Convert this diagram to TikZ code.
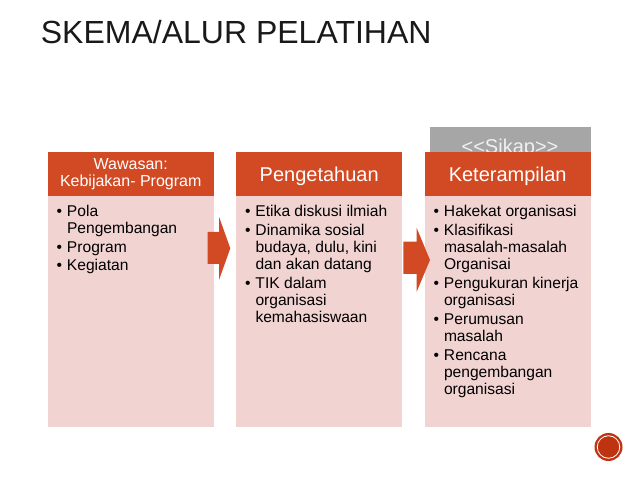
\documentclass[tikz,border=0pt]{standalone}
\usepackage{fontspec}
\setmainfont{Liberation Sans}
\usetikzlibrary{positioning}
\definecolor{headred}{HTML}{D24A24}
\definecolor{bodypink}{HTML}{F1D3D2}
\definecolor{sikapgray}{HTML}{A6A6A6}
\definecolor{dotred}{HTML}{BE3411}
\newcommand{\itm}{\par\hangindent=10.3pt\hangafter=1\noindent\makebox[10.3pt][l]{\textbullet}}
\newcommand{\bodylist}[1]{\parbox[t]{165pt}{\fontsize{15.6}{17.3}\selectfont\parskip=1.3pt #1}}
\tikzset{headbox/.style = {fill=headred, text=white, anchor=north west,
                           minimum width=166pt, minimum height=44pt,
                           font=\fontsize{20}{22}\selectfont}}
\tikzset{bodybox/.style = {fill=bodypink, anchor=north west,
                           minimum width=166pt, minimum height=231pt}}
\tikzset{blockarrow/.style = {fill=headred}}

\begin{document}
\begin{tikzpicture}[x=1pt, y=-1pt, inner sep=0pt]
      \useasboundingbox (0, 0) rectangle (638, 478);
      \node (title) at (40.7, 43.3) [anchor=base west, font=\fontsize{32}{32}\selectfont, text=black!90] {SKEMA/ALUR PELATIHAN};

      \node (sikapbox) at (429.3, 126.7) [fill=sikapgray, anchor=north west, minimum width=161.4pt, minimum height=30pt] {};
      \node (sikap) at (510, 154) [anchor=base, text=white!88!gray, font=\fontsize{20}{22}\selectfont] {{<}{<}Sikap{>}{>}};

      \node (head1) at (47.5, 152) [headbox, font=\fontsize{16}{17.4}\selectfont, align=center] {Wawasan:\\Kebijakan- Program};
      \node (head2) at (236, 152) [headbox, text height=14.3pt, text depth=0pt] {Pengetahuan};
      \node (head3) at (424.5, 152) [headbox, text height=14.3pt, text depth=0pt] {Keterampilan};
      \node (body1) at (47.5, 196) [bodybox] {};
      \node (body2) at (236, 196) [bodybox] {};
      \node (body3) at (424.5, 196) [bodybox] {};

      \node (list1) at (56.5, 216.5) [anchor=base west] {\bodylist{%
        \itm Pola\\Pengembangan
        \itm Program
        \itm Kegiatan}};
      \node (list2) at (245, 216.5) [anchor=base west] {\bodylist{%
        \itm Etika diskusi ilmiah
        \itm Dinamika sosial\\budaya, dulu, kini\\dan akan datang
        \itm TIK dalam\\organisasi\\kemahasiswaan}};
      \node (list3) at (433.5, 216.5) [anchor=base west] {\bodylist{%
        \itm Hakekat organisasi
        \itm Klasifikasi\\masalah-masalah\\Organisai
        \itm Pengukuran kinerja\\organisasi
        \itm Perumusan\\masalah
        \itm Rencana\\pengembangan\\organisasi}};

      \fill [blockarrow] (207.7, 232) -- (219, 232) -- (219, 216.7) -- (230.3, 248.3)
                         -- (219, 280) -- (219, 264) -- (207.7, 264) -- cycle;
      \fill [blockarrow] (403.3, 241.7) -- (416.7, 241.7) -- (416.7, 228) -- (430, 260)
                         -- (416.7, 291.7) -- (416.7, 274) -- (403.3, 274) -- cycle;

      \node (dot) at (608.5, 447) [circle, fill=dotred, minimum size=28pt] {};
      \node (ring) at (dot) [circle, draw=white, line width=0.8pt, minimum size=22.5pt] {};
    \end{tikzpicture}
\end{document}
